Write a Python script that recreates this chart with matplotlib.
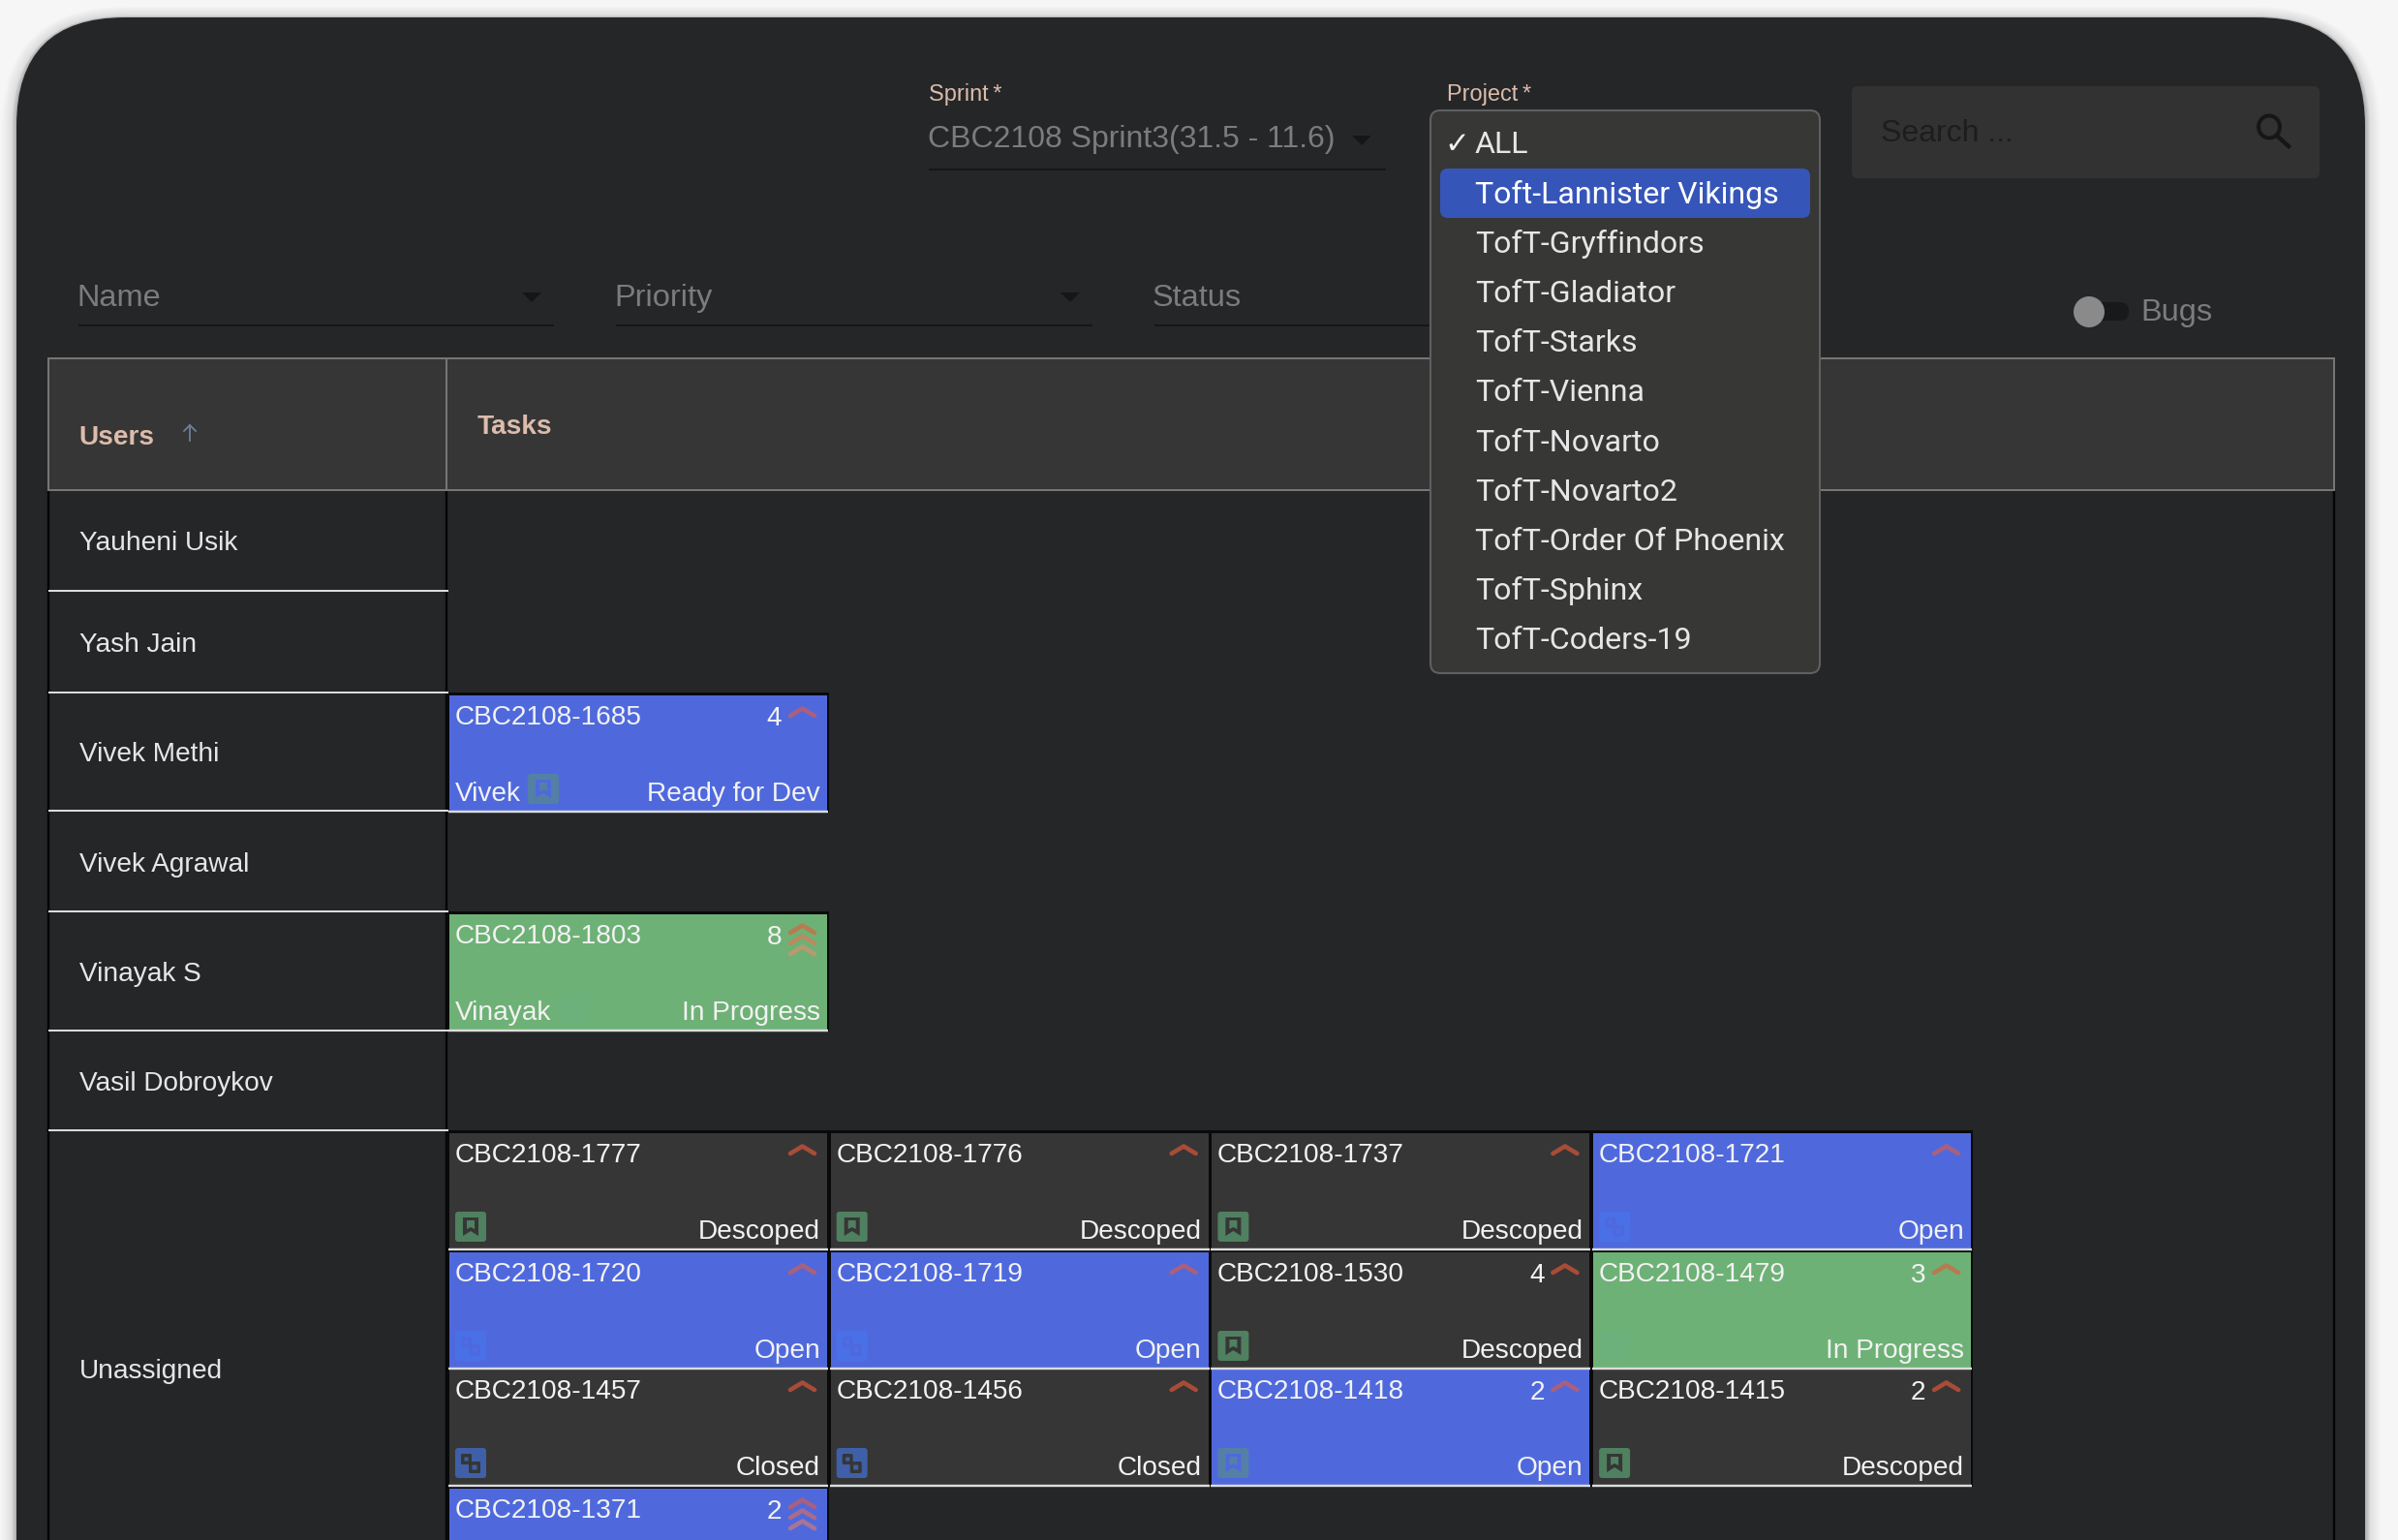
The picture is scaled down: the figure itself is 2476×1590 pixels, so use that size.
import matplotlib
matplotlib.use("Agg")
import matplotlib.pyplot as plt
from matplotlib.patches import FancyBboxPatch, Rectangle, Polygon, Circle, Ellipse

# board content
user_names = ["Yauheni Usik", "Yash Jain", "Vivek Methi", "Vivek Agrawal", "Vinayak S", "Vasil Dobroykov", "Unassigned"]
project_items = ["ALL", "Toft-Lannister Vikings", "TofT-Gryffindors", "TofT-Gladiator", "TofT-Starks", "TofT-Vienna",
                 "TofT-Novarto", "TofT-Novarto2", "TofT-Order Of Phoenix", "TofT-Sphinx", "TofT-Coders-19"]
filter_labels = ["Name", "Priority", "Status"]

task_ids = ["CBC2108-1685", "CBC2108-1803",
            "CBC2108-1777", "CBC2108-1776", "CBC2108-1737", "CBC2108-1721",
            "CBC2108-1720", "CBC2108-1719", "CBC2108-1530", "CBC2108-1479",
            "CBC2108-1457", "CBC2108-1456", "CBC2108-1418", "CBC2108-1415",
            "CBC2108-1371"]
task_users = ["Vivek Methi", "Vinayak S"] + ["Unassigned"] * 13
task_points = ["4", "8", "", "", "", "", "", "", "4", "3", "", "", "2", "2", "2"]
task_status = ["Ready for Dev", "In Progress",
               "Descoped", "Descoped", "Descoped", "Open",
               "Open", "Open", "Descoped", "In Progress",
               "Closed", "Closed", "Open", "Descoped",
               ""]
task_kinds = ["story", "story",
              "story", "story", "story", "subtask",
              "subtask", "subtask", "story", "story",
              "subtask", "subtask", "story", "story",
              "story"]
task_owner = ["Vivek", "Vinayak"] + [""] * 13
task_chevrons = [1, 3, 1, 1, 1, 1, 1, 1, 1, 1, 1, 1, 1, 1, 3]

# styles
SANS = "Liberation Sans"
MENU = "Roboto"
PANEL = "#252628"
HEAD = "#363636"
LINE = "#151618"
PEACH = "#dcbcab"
GREY = "#7c7c7c"
card_colors = {"Open": "#4f69dd", "Ready for Dev": "#4f69dd", "": "#4f69dd",
               "In Progress": "#6eb176", "Descoped": "#363636", "Closed": "#363636"}
chevron_colors = {"#4f69dd": ["#a9607f", "#ab6c8a", "#a87595"],
                  "#6eb176": ["#b87a50", "#ba8a60", "#b89a70"],
                  "#363636": ["#a84c38"]}
icon_colors = {("story", "#363636"): "#4f8060", ("story", "#4f69dd"): "#5480a6", ("story", "#6eb176"): "#6cb07c",
               ("subtask", "#363636"): "#3f60a8", ("subtask", "#4f69dd"): "#4a70e8", ("subtask", "#6eb176"): "#6cb07c"}

fig = plt.figure(figsize=(24.76, 15.90), dpi=100)
ax = fig.add_axes([0, 0, 1, 1])
ax.set_xlim(0, 2476)
ax.set_ylim(1590, 0)
ax.axis("off")
fig.patch.set_facecolor("#f6f6f6")


def px(size):
    # font size in pixels -> points
    return size * 0.72


def rbox(x0, y0, x1, y1, r, color, z=2, ec="none", lw=0, alpha=None):
    p = FancyBboxPatch((x0, y0), x1 - x0, y1 - y0, boxstyle="round,pad=0,rounding_size=%g" % r,
                       fc=color, ec=ec, lw=lw, zorder=z, alpha=alpha)
    ax.add_patch(p)
    return p


def hline(x0, x1, y, color=LINE, lw=2.0, z=3):
    ax.plot([x0, x1], [y, y], color=color, lw=lw * 0.72, zorder=z, solid_capstyle="butt")


def vline(x, y0, y1, color=LINE, lw=2.0, z=3):
    ax.plot([x, x], [y0, y1], color=color, lw=lw * 0.72, zorder=z, solid_capstyle="butt")


def label(x, y, s, size, color, weight="normal", ha="left", family=SANS, z=6):
    ax.text(x, y, s, fontsize=px(size), color=color, fontweight=weight, ha=ha, va="baseline", family=family, zorder=z)


def triangle(cx, y0, color=LINE):
    ax.add_patch(Polygon([(cx - 10, y0), (cx + 10, y0), (cx, y0 + 10)], fc=color, ec="none", zorder=4))


def chevron(x0, y0, color):
    ax.plot([x0 + 2, x0 + 14.5, x0 + 27], [y0 + 9, y0 + 1.5, y0 + 9], color=color, lw=4.6 * 0.72, zorder=6,
            solid_capstyle="round", solid_joinstyle="round")


def icon(x0, y0, kind, bg):
    box = icon_colors[(kind, bg)]
    rbox(x0, y0, x0 + 32, y0 + 31, 3, box, z=5)
    if bg == "#6eb176":
        return
    if kind == "story":
        ax.add_patch(Polygon([(x0 + 8, y0 + 6), (x0 + 24, y0 + 6), (x0 + 24, y0 + 25), (x0 + 16, y0 + 20), (x0 + 8, y0 + 25)],
                             fc=bg, ec="none", zorder=6))
        ax.add_patch(Polygon([(x0 + 12, y0 + 9), (x0 + 20, y0 + 9), (x0 + 20, y0 + 18), (x0 + 16, y0 + 16), (x0 + 12, y0 + 18)],
                             fc=box, ec="none", zorder=7))
    else:
        for sx, sy, w in [(6, 6, 11), (14, 14, 12)]:
            rbox(x0 + sx, y0 + sy, x0 + sx + w, y0 + sy + w, 1.5, bg, z=6)
            rbox(x0 + sx + 3.5, y0 + sy + 3.5, x0 + sx + w - 3.5, y0 + sy + w - 3.5, 0.5, box, z=7)


# page shadow and panel
for grow in range(16, 0, -1):
    rbox(17 - grow, 18 - grow * 0.7, 2442 + grow, 1750, 112 + grow, "black", z=1, alpha=0.006)
for grow in range(5, 0, -1):
    rbox(17 - grow, 18 - grow * 0.3, 2442 + grow, 1750, 112 + grow, "black", z=1, alpha=0.035)
rbox(17, 18, 2442, 1750, 112, PANEL, z=2)

# top selects
label(959, 104, "Sprint\u2009*", 23.5, PEACH)
label(958, 152, "CBC2108 Sprint3(31.5 - 11.6)", 32, GREY)
triangle(1406, 140)
hline(959, 1431, 175)
label(1494, 104, "Project\u2009*", 23.5, PEACH)

# search box
rbox(1912, 89, 2395, 184, 6, "#323232", z=3)
label(1942, 146, "Search ...", 32, "#1c1d1e")
ax.add_patch(Ellipse((2343, 131), 22, 23, fc="none", ec=LINE, lw=4 * 0.72, zorder=4))
ax.plot([2352, 2363], [141, 151], color=LINE, lw=4.4 * 0.72, zorder=4)

# filter row
filter_x = [79, 634, 1190]
filter_end = [572, 1128, 1500]
for name, x0, x1 in zip(filter_labels, filter_x, filter_end):
    label(x0, 316, name, 32.5, GREY)
    hline(x0 + 2, x1, 336)
    if name != "Status":
        triangle(x1 - 23, 302)

# bugs toggle
rbox(2142, 312, 2198, 331, 9, "#17191a", z=3)
ax.add_patch(Circle((2157, 322), 16, fc="#8a8a8a", ec="none", zorder=4))
label(2210, 331, "Bugs", 32.5, GREY)

# table header
ax.add_patch(Rectangle((50, 370), 2360, 136, fc=HEAD, ec="#767676", lw=2 * 0.72, zorder=3))
vline(461, 370, 506, "#767676", 2, z=4)
label(81, 459, "Users", 28, PEACH, weight="bold")
label(493, 448, "Tasks", 28, PEACH, weight="bold")
ax.plot([196, 196], [439, 455], color="#6f7f9a", lw=1.8 * 0.72, zorder=5)
ax.plot([190, 196, 202], [445, 439, 445], color="#6f7f9a", lw=1.8 * 0.72, zorder=5)

# user rows
row_edges = [506, 610, 715, 837, 941, 1064, 1167, 1658]
for x in [50, 461, 2410]:
    vline(x, 507, 1590, "#050505", 2.4, z=3)
for i, name in enumerate(user_names):
    top, bot = row_edges[i], row_edges[i + 1]
    label(81.5, (top + bot) / 2 + 10.5, name, 28, "#e6e6e6")
    if bot < 1590:
        hline(50, 463, bot, "#dcdcdc", 2, z=4)

# task cards
CARD_W = 390
COL_STEP = 393.7
unassigned_tops = [1169, 1292, 1413, 1536]
grid_i = 0
for i, tid in enumerate(task_ids):
    user = task_users[i]
    if user == "Unassigned":
        col = grid_i % 4
        top = unassigned_tops[grid_i // 4]
        grid_i += 1
    else:
        col = 0
        top = row_edges[user_names.index(user)] + 2
    left = 464 + col * COL_STEP
    bottom = top + 121
    bg = card_colors[task_status[i]]
    ax.add_patch(Rectangle((left - 3, top - 2), CARD_W + 5, 124, fc="#0a0a0b", ec="none", zorder=3))
    ax.add_patch(Rectangle((left, top + 1), CARD_W, 120, fc=bg, ec="none", zorder=4))
    hline(left - 1, left + CARD_W + 1, bottom, "#dcdcdc", 2.4, z=5)
    label(left + 5.5, top + 31, tid, 28, "#f2f2f2")
    if task_points[i]:
        label(left + 343.5, top + 32, task_points[i], 28, "#f2f2f2", ha="right")
    for k in range(task_chevrons[i]):
        chevron(left + 350, top + 11 + (k * 11 if task_chevrons[i] > 1 else 2), chevron_colors[bg][k])
    if task_status[i]:
        label(left + CARD_W - 7, top + 110, task_status[i], 28, "#f2f2f2", ha="right")
    icon_x = left + 6
    if task_owner[i]:
        label(left + 5.5, top + 110, task_owner[i], 28, "#f2f2f2")
        icon_x = left + (81 if task_owner[i] == "Vivek" else 113)
    icon(icon_x, top + 82, task_kinds[i], bg)

# open project dropdown
rbox(1477, 114, 1879, 695, 10, "#373736", z=10, ec="#5f5f5f", lw=1.5)
rbox(1487, 174, 1869, 225, 8, "#3655b9", z=11)
for i, item in enumerate(project_items):
    label(1523, 158.5 + i * 51.2, item, 32.2, "white" if i == 1 else "#e6e6e6", family=MENU, z=12)
ax.text(1491, 158, "\u2713", fontsize=px(31), color="#f0f0f0", family="DejaVu Sans", va="baseline", zorder=12)

fig.savefig("out.png", dpi=100, facecolor=fig.get_facecolor())
